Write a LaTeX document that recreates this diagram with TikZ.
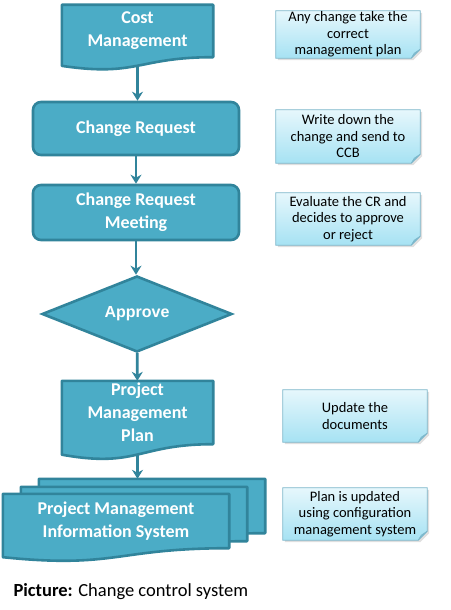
\documentclass[tikz,border=0pt]{standalone}
\usepackage{fontspec}
\setmainfont{Carlito}
\newfontfamily\approvefont{Liberation Sans}
\usetikzlibrary{arrows.meta,positioning,calc,shapes.geometric,shadows,backgrounds}
\definecolor{FlowFill}{HTML}{4BACC6}
\definecolor{FlowLine}{HTML}{31849B}
\definecolor{NoteTop}{HTML}{E6F7FC}
\definecolor{NoteBottom}{HTML}{A6E2F3}
\definecolor{NoteLine}{HTML}{7DB7CB}
\definecolor{NoteFold}{HTML}{7FC6DB}
\tikzset{
  flow/.style={-{Stealth[length=9pt,width=11pt]}, line width=2.6pt, draw=FlowLine},
  procbox/.style={rounded corners=8pt, draw=FlowLine, fill=FlowFill, line width=2.6pt,
                  text=white, font=\fontsize{18}{23}\selectfont\bfseries, align=center},
  docnode/.style={text=white, font=\fontsize{18}{23}\selectfont\bfseries, align=center, inner sep=0pt},
  docfill/.style={draw=FlowLine, fill=FlowFill, line width=2.6pt, line join=round},
  decide/.style={diamond, aspect=2.5, draw=FlowLine, fill=FlowFill, line width=2.6pt, text=white,
                 font=\approvefont\fontsize{16}{19}\selectfont\bfseries, inner sep=0pt,
                 minimum width=190pt, minimum height=76pt},
  notetext/.style={align=center, inner sep=0pt, minimum width=144pt,
                   font=\fontsize{14.5}{16.5}\selectfont},
  notefill/.style={top color=NoteTop, bottom color=NoteBottom, draw=NoteLine, line width=0.8pt,
                   drop shadow={opacity=0.25, shadow xshift=2pt, shadow yshift=-2pt}},
  notefold/.style={fill=NoteFold, draw=NoteLine, line width=0.6pt, line join=round},
}
% document shape under a node, wave along the bottom
\newcommand{\docshape}[1]{%
  \path[docfill] (#1.north west) -- (#1.north east) -- (#1.south east)
    .. controls (#1.south) and ($(#1.south)!-0.38!(#1.north)$)
    .. ($(#1.south west)!-0.165!(#1.north west)$) -- cycle;
  \coordinate (#1-bot) at ($(#1.south)!-0.16!(#1.north)$);}
% note paper with a folded corner
\newcommand{\notepaper}[1]{%
  \path[notefill] (#1.north west) -- (#1.north east) -- ([yshift=9pt]#1.south east)
    -- ([xshift=-9pt]#1.south east) -- (#1.south west) -- cycle;
  \path[notefold] ([yshift=9pt]#1.south east) -- ([xshift=-9pt]#1.south east)
    -- ([xshift=-6pt,yshift=5pt]#1.south east) -- cycle;}

\begin{document}
\begin{tikzpicture}[x=1pt,y=-1pt]
  \useasboundingbox (0,0) rectangle (450,610);
  % flow on the left
  \node[docnode,minimum width=151pt,minimum height=52pt] (cost) at (137.5,31) {Cost\\Management};
  \node[procbox,minimum width=206pt,minimum height=53pt] (req) at (136,128.5) {Change Request};
  \node[procbox,minimum width=206pt,minimum height=55pt] (meet) at (136,212.5) {Change Request\\Meeting};
  \node[decide] (appr) at (137,314) {Approve};
  \node[docnode,minimum width=151pt,minimum height=63pt] (plan) at (137.5,412.5) {Project\\Management\\Plan};
  \node[docnode,minimum width=226pt,minimum height=54pt] (pmisc) at (152,506) {};
  \node[docnode,minimum width=226pt,minimum height=54pt] (pmisb) at (134,514) {};
  \node[docnode,minimum width=226pt,minimum height=54pt] (pmis) at (116,521) {Project Management\\Information System};
  % notes on the right
  \node[notetext,minimum height=47pt] (n1) at (348,34.5) {Any change take the\\correct\\management plan};
  \node[notetext,minimum height=53pt] (n2) at (348,136.5) {Write down the\\change and send to\\CCB};
  \node[notetext,minimum height=52pt] (n3) at (348,219) {Evaluate the CR and\\decides to approve\\or reject};
  \node[notetext,minimum height=52pt] (n4) at (355,416) {Update the\\documents};
  \node[notetext,minimum height=52pt] (n5) at (355,514) {Plan is updated\\using configuration\\management system};
  \node[anchor=west,font=\fontsize{18.5}{22}\selectfont] (cap) at (10,592) {\textbf{Picture:} Change control system};
  \begin{scope}[on background layer]
    \fill[white] (0,0) rectangle (450,610);
    \docshape{cost}
    \docshape{plan}
    \docshape{pmisc}
    \docshape{pmisb}
    \docshape{pmis}
    \notepaper{n1}
    \notepaper{n2}
    \notepaper{n3}
    \notepaper{n4}
    \notepaper{n5}
  \end{scope}
  \draw[flow] (cost-bot) -- (cost-bot |- req.north);
  \draw[flow] (req) -- (meet);
  \draw[flow] (meet) -- (meet |- appr.north);
  \draw[flow] (appr) -- (plan);
  \draw[flow] (plan-bot) -- (plan-bot |- pmisc.north);
\end{tikzpicture}
\end{document}
